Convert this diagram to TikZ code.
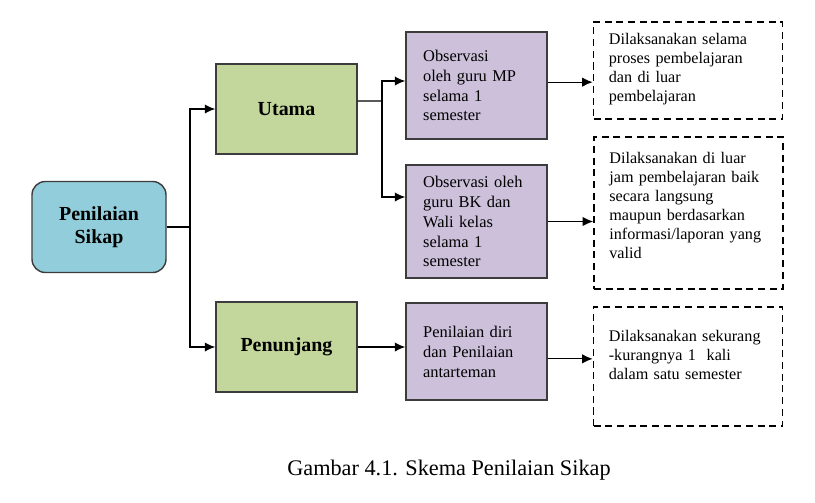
\documentclass[tikz,border=0pt]{standalone}
\usepackage{fontspec}
\setmainfont{Liberation Serif}
\usepackage{tikz}
\usetikzlibrary{arrows.meta}
\tikzset{>={Latex[length=9pt, width=8pt]}}
\definecolor{sikapblue}{HTML}{92CDDC}
\definecolor{jenisgreen}{HTML}{C3D69B}
\definecolor{carapurple}{HTML}{CCC0DA}
\definecolor{tepi}{HTML}{3C3C3C}
\tikzset{
    kotak/.style={draw=tepi, line width=1.2pt},
    jenisbox/.style={kotak, fill=jenisgreen, minimum width=4.23cm, minimum height=2.7cm, font=\fontsize{17}{20}\selectfont\bfseries},
    carabox/.style={kotak, fill=carapurple, minimum width=4.23cm, text width=3.2cm, inner xsep=0.48cm, align=left, font=\fontsize{14}{17}\selectfont},
    ketbox/.style={draw, dash pattern=on 6pt off 4pt, line width=1.3pt, minimum width=5.67cm, text width=4.75cm, inner xsep=0.45cm, align=left, font=\fontsize{13.8}{16.2}\selectfont},
    garis/.style={line width=1.1pt},
    panah/.style={->, line width=1.1pt},
}

\begin{document}
\begin{tikzpicture}[x=0.03cm, y=-0.03cm]
    \useasboundingbox(0, 0) rectangle (815, 502);
    \node[kotak, fill=sikapblue, rounded corners=0.4cm, minimum width=4.02cm, minimum height=2.73cm, align=center, font=\fontsize{17}{20}\selectfont\bfseries](sikap) at (99, 227){Penilaian\\Sikap};
    \node[jenisbox](utama) at (286.5, 109){Utama};
    \node[jenisbox](penunjang) at (286.5, 347){Penunjang};
    \node[carabox, minimum height=3.21cm](obsmp) at (476.5, 85.5){Observasi\\oleh guru MP\\selama 1\\semester};
    \node[carabox, minimum height=3.39cm](obsbk) at (476.5, 221.5){Observasi oleh\\guru BK dan\\Wali kelas\\selama 1\\semester};
    \node[carabox, minimum height=2.91cm](diri) at (476.5, 351.5){Penilaian diri\\dan Penilaian\\antarteman};
    \node[ketbox, minimum height=2.91cm, text depth=1.92cm](ket1) at (688, 70.5){Dilaksanakan selama\\proses pembelajaran\\dan di luar\\pembelajaran};
    \node[ketbox, minimum height=4.56cm, text depth=3.30cm](ket2) at (688.5, 213){Dilaksanakan di luar\\jam pembelajaran baik\\secara langsung\\maupun berdasarkan\\informasi/laporan yang\\valid};
    \node[ketbox, minimum height=3.57cm, text depth=1.86cm](ket3) at (688, 366.5){Dilaksanakan sekurang\\-kurangnya 1~ kali\\dalam satu semester};
    \node[font=\fontsize{19}{22}\selectfont](judul) at (449, 470){Gambar 4.1. Skema Penilaian Sikap};

    \coordinate(cabang) at (190, 227);
    \coordinate(cabangutama) at (382, 101);
    \coordinate(keluarutama) at ([yshift=2.4mm]utama.east);
    \coordinate(keluarmp) at ([yshift=1mm]obsmp.east);
    \coordinate(keluardiri) at ([yshift=-2.2mm]diri.east);
    \draw[garis](sikap.east)--(cabang);
    \draw[panah](cabang)|-(utama.west);
    \draw[panah](cabang)|-(penunjang.west);
    \draw[garis](keluarutama)--(cabangutama);
    \draw[panah](cabangutama)|-([yshift=1.35mm]obsmp.west);
    \draw[panah](cabangutama)|-([yshift=7.35mm]obsbk.west);
    \draw[panah](penunjang.east)--(penunjang.east -| diri.west);
    \draw[panah](keluarmp)--(keluarmp -| ket1.west);
    \draw[panah](obsbk.east)--(obsbk.east -| ket2.west);
    \draw[panah](keluardiri)--(keluardiri -| ket3.west);
\end{tikzpicture}
\end{document}
